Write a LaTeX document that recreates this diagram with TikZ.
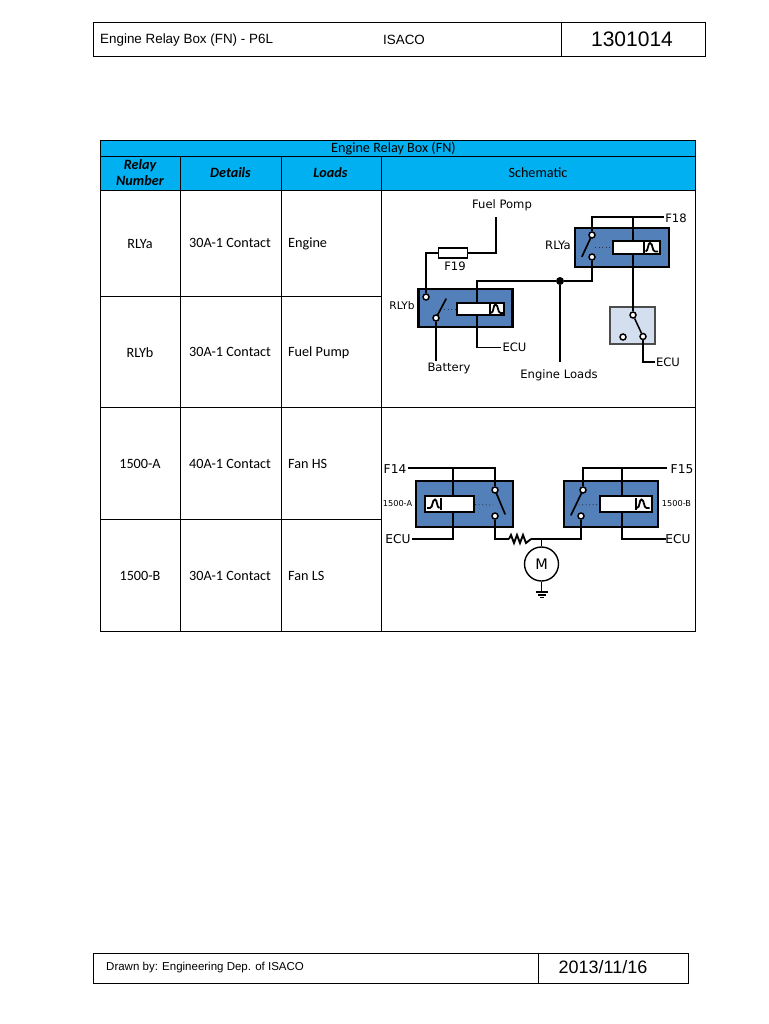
\documentclass[tikz,border=0pt]{standalone}
\usepackage{fontspec}
\setmainfont{Carlito}
\newfontfamily\framefont{Liberation Sans}
\newfontfamily\schemfont{DejaVu Sans}
\usetikzlibrary{calc}
\definecolor{headblue}{HTML}{00B0F0}
\definecolor{relayblue}{HTML}{5480B9}
\definecolor{relaypale}{HTML}{D3DFEE}
\tikzset{
	gridline/.style={line width=0.9pt, color=black},
	cell/.style={inner sep=0pt, font=\fontsize{14.2}{16}\selectfont},
	headcell/.style={inner sep=0pt, align=center, font=\fontsize{14.2}{16}\selectfont\bfseries\itshape},
	framebig/.style={inner sep=0pt, font=\framefont\fontsize{13.4}{15}\selectfont},
	wire/.style={line width=1.3pt, color=black},
	fatwire/.style={line width=1.9pt, color=black},
	term/.style={circle, draw=black, fill=white, line width=1.5pt, minimum size=6pt, inner sep=0pt},
	blade/.style={line width=1.7pt, color=black, line cap=round},
	relaybox/.style={draw=black, fill=relayblue, line width=2.2pt, inner sep=0pt},
	coilbox/.style={draw=black, fill=white, line width=2.1pt, inner sep=0pt},
	dots/.style={line width=0.8pt, color=black!60!relayblue, dash pattern=on 1pt off 2.5pt},
	lab/.style={inner sep=0pt, font=\schemfont\fontsize{11.6}{13}\selectfont},
	labbig/.style={inner sep=0pt, font=\schemfont\fontsize{12.2}{14}\selectfont},
	labtiny/.style={inner sep=0pt, font=\schemfont\fontsize{8.2}{10}\selectfont}
}
% box from centre and size
\def\relay(#1)[#2,#3]#4;{\node[#4, minimum width=#2pt, minimum height=#3pt] at (#1) {};}
% divided end of a coil
\def\coilwave(#1)[#2]{\begin{scope}[shift={(#1)}, xscale=#2]
	\draw[line width=2pt] (-7.5,-6) -- (-7.5,6);
	\draw[line width=1.8pt] (-6,4) .. controls (-3,4) and (-4,-4.5) .. (-1.5,-4.5) .. controls (1.5,-4.5) and (0.5,4) .. (3.5,4) -- (6.5,4);
\end{scope}}
\begin{document}
\begin{tikzpicture}[x=1pt, y=-1pt]
	\useasboundingbox[fill=white] (0,0) rectangle (768,1024);

	%%%%% frames %%%%%
	\draw[gridline] (93,22) rectangle (705.5,56);
	\draw[gridline] (561,22) -- (561,56);
	\node[framebig, anchor=west] (title) at (100,40) {Engine Relay Box (FN) - P6L};
	\node[framebig] (maker) at (404,40) {ISACO};
	\node[framebig, font=\framefont\fontsize{21}{24}\selectfont] (docnum) at (632,39) {1301014};

	\draw[gridline] (93,953) rectangle (688.5,983);
	\draw[gridline] (538,953) -- (538,983);
	\node[framebig, anchor=west, font=\framefont\fontsize{11.5}{14}\selectfont] (drawn) at (106,968) {Drawn by: Engineering Dep. of ISACO};
	\node[framebig, font=\framefont\fontsize{18}{20}\selectfont] (date) at (603,967.5) {2013/11/16};

	%%%%% table %%%%%
	\fill[headblue] (100,140) rectangle (696,190);
	\draw[gridline] (100,140) rectangle (695.5,631);
	\draw[gridline] (100,156) -- (695.5,156);
	\draw[gridline] (100,190) -- (695.5,190);
	\draw[gridline] (100,407) -- (695.5,407);
	\draw[gridline] (100,296) -- (381,296);
	\draw[gridline] (100,519) -- (381,519);
	\foreach \colx in {180,281,381}
		\draw[gridline] (\colx,156) -- (\colx,631);

	\node[cell] (tabhead) at (393.5,148.5) {Engine Relay Box (FN)};
	\node[headcell] (hnum) at (140,173) {Relay\\Number};
	\node[headcell] (hdet) at (230.5,173) {Details};
	\node[headcell] (hload) at (330.5,173) {Loads};
	\node[cell] (hsch) at (538,173) {Schematic};

	\node[cell] (r1) at (140,243.5) {RLYa};
	\node[cell] (d1) at (230,243) {30A-1 Contact};
	\node[cell, anchor=west] (l1) at (288,243.5) {Engine};
	\node[cell] (r2) at (140,352.5) {RLYb};
	\node[cell] (d2) at (230,352) {30A-1 Contact};
	\node[cell, anchor=west] (l2) at (288,352.5) {Fuel Pump};
	\node[cell] (r3) at (140,463.5) {1500-A};
	\node[cell] (d3) at (230,463.5) {40A-1 Contact};
	\node[cell, anchor=west] (l3) at (288,463.5) {Fan HS};
	\node[cell] (r4) at (140,575.5) {1500-B};
	\node[cell] (d4) at (230,575.5) {30A-1 Contact};
	\node[cell, anchor=west] (l4) at (288,575.5) {Fan LS};

	%%%%% RLYa / RLYb %%%%%
	\relay(622,247.5)[94,39]relaybox;
	\relay(465.5,308)[94,38]relaybox;
	\node[draw=black!70, fill=relaypale, line width=1.3pt, minimum width=45pt, minimum height=37pt, inner sep=0pt] (sw) at (632.5,325.5) {};

	\node[lab] (fuelpomp) at (502,205.5) {Fuel Pomp};
	\node[lab] (f18) at (676,218) {F18};
	\node[lab] (f19) at (455,266) {F19};
	\node[lab] (rlya) at (558,245) {RLYa};
	\node[lab, font=\schemfont\fontsize{10.6}{12}\selectfont] (rlyb) at (402,306) {RLYb};
	\node[lab] (ecub) at (514.5,347.5) {ECU};
	\node[lab] (ecusw) at (668,362) {ECU};
	\node[lab] (battery) at (449,368) {Battery};
	\node[lab] (loads) at (559,375.5) {Engine Loads};

	\node[term] (a1) at (592,235) {};
	\node[term] (a2) at (592,257) {};
	\node[term] (b1) at (426,297) {};
	\node[term] (b2) at (436,318) {};
	\node[term] (s1) at (633,315) {};
	\node[term] (s2) at (643,336.5) {};
	\node[term] (s3) at (623,337) {};
	\node[draw=black, fill=white, line width=1.4pt, minimum width=29pt, minimum height=10pt, inner sep=0pt] (fuse) at (453,253) {};
	\node[circle, fill=black, minimum size=8pt, inner sep=0pt] (joint) at (560,281) {};
	\coordinate (f18end) at (664,217);
	\coordinate (a1top) at (592,217);
	\coordinate (acoil) at (633,217);
	\coordinate (pomp) at (496,217);
	\coordinate (bcorner) at (477,281);
	\coordinate (ecubend) at (501,347.5);
	\coordinate (swecu) at (655,362);
	\coordinate (loadsend) at (560,362);
	\coordinate (batend) at (436,360.5);

	\draw[wire] (a1) |- (f18end);
	\draw[wire] (acoil) -- (s1);
	\draw[wire] (a2) |- (joint);
	\draw[wire] (joint) -- (bcorner) |- (ecubend);
	\draw[wire] (joint) -- (loadsend);
	\draw[wire] (s2) |- (swecu);
	\draw[fatwire] (b1) |- (fuse);
	\draw[wire] (fuse) -| (pomp);
	\draw[fatwire] (b2) -- (batend);

	\node[coilbox, minimum width=47.5pt, minimum height=13pt] (coila) at (636.5,247.5) {};
	\node[coilbox, minimum width=47pt, minimum height=12.5pt] (coilb) at (480.5,309) {};
	\coilwave(651.5,247.5)[1]
	\coilwave(497,309)[1]
	\draw[blade] (a1) -- (582,256.5);
	\draw[blade] (b2) -- (446,299);
	\draw[line width=1.5pt, color=black] (s1) -- (s2);
	\draw[dots] (595,247.5) -- (coila);
	\draw[dots] (444,309) -- (coilb);

	%%%%% 1500-A / 1500-B %%%%%
	\relay(464.5,504)[97,46]relaybox;
	\relay(611,504)[94,46]relaybox;

	\node[labbig] (f14) at (395,469) {F14};
	\node[labbig] (f15) at (682,469) {F15};
	\node[labbig] (ecua) at (398,539.5) {ECU};
	\node[labbig] (ecuc) at (678,539.5) {ECU};
	\node[labtiny] (rela) at (397.5,503.5) {1500-A};
	\node[labtiny] (relc) at (676.5,503.5) {1500-B};

	\node[term] (p1) at (495,490) {};
	\node[term] (p2) at (495,516) {};
	\node[term] (q1) at (583,490) {};
	\node[term] (q2) at (581,516) {};
	\node[draw=black, circle, fill=white, line width=1.4pt, minimum size=34pt, inner sep=0pt, font=\schemfont\fontsize{14.5}{16}\selectfont] (motor) at (541.5,564) {M};
	\coordinate (f14end) at (408,468);
	\coordinate (f15end) at (667,468);
	\coordinate (acoiltop) at (453,468);
	\coordinate (ccoiltop) at (622,468);
	\coordinate (ecuaend) at (412,539);
	\coordinate (ecucend) at (666,539);
	\coordinate (resl) at (509,539);
	\coordinate (resr) at (531,539);
	\coordinate (motorbus) at (541.5,539);
	\coordinate (gnd) at (541.5,592);

	\draw[wire] (f14end) -| (p1);
	\draw[wire] (f15end) -| (q1);
	\draw[wire] (acoiltop) |- (ecuaend);
	\draw[wire] (ccoiltop) |- (ecucend);
	\draw[wire] (p2) |- (resl);
	\draw[wire] (q2) |- (resr);
	\draw[wire] (motorbus) -- (motor);
	\draw[wire] (motor) -- (gnd);
	\draw[fatwire] (resl) -- ++(2,-4) -- ++(3,8) -- ++(3,-8) -- ++(3,8) -- ++(3,-8) -- ++(3,8) -- (resr);
	\draw[line width=1.4pt] ($(gnd)+(-6,0)$) -- ($(gnd)+(6,0)$);
	\draw[line width=1.3pt] ($(gnd)+(-4,2.9)$) -- ($(gnd)+(4,2.9)$);
	\draw[line width=1.2pt] ($(gnd)+(-2,5.6)$) -- ($(gnd)+(2,5.6)$);

	\node[coilbox, minimum width=49pt, minimum height=16pt] (coilp) at (449.5,504) {};
	\node[coilbox, minimum width=52pt, minimum height=16pt] (coilq) at (626,504) {};
	\coilwave(433.5,504)[-1]
	\coilwave(643,504)[1]
	\draw[blade] (p1) -- (505,514);
	\draw[blade] (q1) -- (571,515);
	\draw[dots] (coilp) -- (493,505);
	\draw[dots] (575,505) -- (coilq);
\end{tikzpicture}
\end{document}
